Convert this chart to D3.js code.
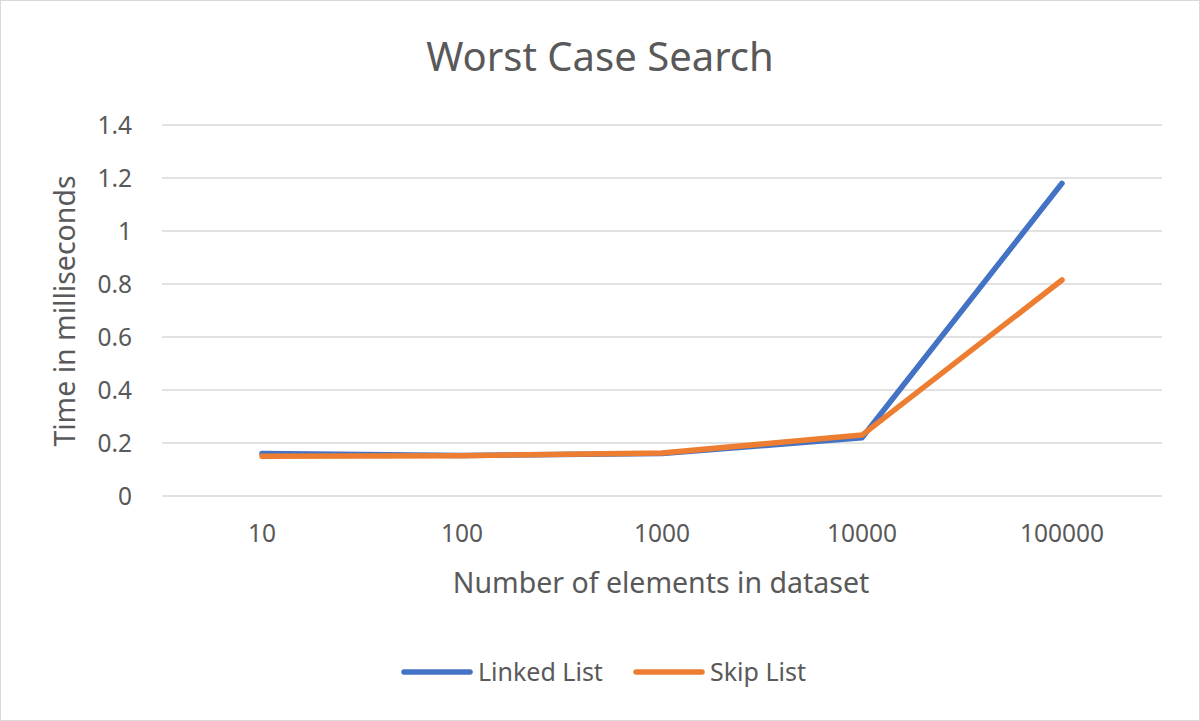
<!DOCTYPE html>
<html>
<head>
<meta charset="utf-8">
<script src="https://cdn.jsdelivr.net/npm/d3@7"></script>
<style>
  body { margin: 0; background: #fff; }
  svg text { font-family: "Noto Sans", "Open Sans", sans-serif; fill: #595959; }
</style>
</head>
<body>
<div id="viz"></div>
<script>
const categories = ['10', '100', '1000', '10000', '100000'];
const linkedList = [0.16, 0.153, 0.16, 0.22, 1.18];
const skipList = [0.15, 0.152, 0.162, 0.23, 0.815];
const yTicks = [0, 0.2, 0.4, 0.6, 0.8, 1, 1.2, 1.4];

const w = 1200;
const h = 721;

const svg = d3.select('#viz').
  append('svg').
  attr('width', w).
  attr('height', h);

// chart border
svg.append('rect').
  attr('x', 0.5).attr('y', 0.5).
  attr('width', w - 1).attr('height', h - 1).
  attr('fill', '#fff').
  attr('stroke', '#d9d9d9');

const xScale = d3.scaleBand().
  domain(categories).
  range([162, 1162]);

const yScale = d3.scaleLinear().
  domain([0, 1.4]).
  range([496, 125]);

// gridlines
svg.append('g').
  selectAll('line').
  data(yTicks).
  enter().
  append('line').
  attr('x1', 162).
  attr('x2', 1162).
  attr('y1', d => yScale(d)).
  attr('y2', d => yScale(d)).
  attr('stroke', '#d9d9d9').
  attr('stroke-width', 1.5);

// y axis labels
const yAxis = d3.axisLeft(yScale).
  tickValues(yTicks).
  tickSize(0).
  tickPadding(0).
  tickFormat(d => d3.format('~g')(d));

const gy = svg.append('g').
  attr('transform', 'translate(132,0)').
  call(yAxis);
gy.select('.domain').remove();
gy.selectAll('text').
  style('font-size', '24.5px').
  attr('fill', '#595959').
  attr('dy', '0.35em');

// x axis labels
const xAxis = d3.axisBottom(xScale).
  tickSize(0).
  tickPadding(0);

const gx = svg.append('g').
  attr('transform', 'translate(0,525)').
  call(xAxis);
gx.select('.domain').remove();
gx.selectAll('text').
  style('font-size', '24.5px').
  attr('fill', '#595959').
  attr('dy', '0.7em');

// lines
const line = d3.line().
  x((d, i) => xScale(categories[i]) + xScale.bandwidth() / 2).
  y(d => yScale(d));

const series = [
  { name: 'Linked List', values: linkedList, color: '#4472c4' },
  { name: 'Skip List', values: skipList, color: '#ed7d31' }
];

series.forEach(s => {
  svg.append('path').
    datum(s.values).
    attr('d', line).
    attr('fill', 'none').
    attr('stroke', s.color).
    attr('stroke-width', 5.5).
    attr('stroke-linecap', 'round').
    attr('stroke-linejoin', 'round');
});

// title
svg.append('text').
  text('Worst Case Search').
  attr('x', 600).
  attr('y', 71).
  attr('text-anchor', 'middle').
  style('font-size', '40px');

// axis titles
svg.append('text').
  text('Number of elements in dataset').
  attr('x', 661).
  attr('y', 593).
  attr('text-anchor', 'middle').
  style('font-size', '28.5px');

svg.append('text').
  text('Time in milliseconds').
  attr('transform', 'translate(75,311) rotate(-90)').
  attr('text-anchor', 'middle').
  style('font-size', '28.5px');

// legend
const legend = svg.append('g');
const legendX = [404, 636];
series.forEach((s, i) => {
  legend.append('line').
    attr('x1', legendX[i]).
    attr('x2', legendX[i] + 66).
    attr('y1', 672).
    attr('y2', 672).
    attr('stroke', s.color).
    attr('stroke-width', 5.5).
    attr('stroke-linecap', 'round');
  legend.append('text').
    text(s.name).
    attr('x', legendX[i] + 74).
    attr('y', 681).
    style('font-size', '25px');
});
</script>
</body>
</html>
